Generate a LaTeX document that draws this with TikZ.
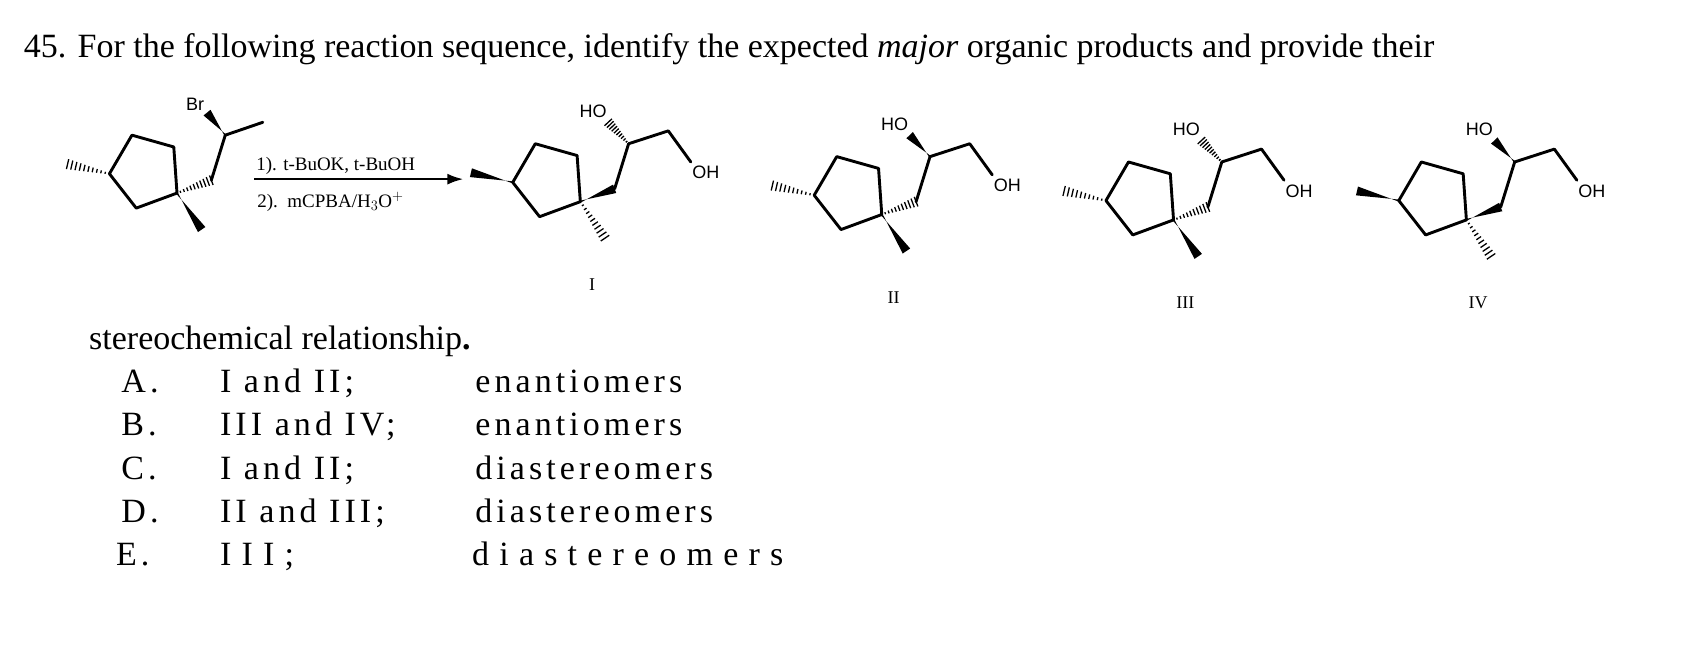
\documentclass[tikz,border=0pt]{standalone}
\usepackage{fontspec}
\setmainfont{Liberation Serif}
\newfontfamily\atomfont{Liberation Sans}
\usetikzlibrary{calc,arrows.meta}
\tikzset{bond/.style={line width=2.9pt,line cap=round,line join=round},
 atom/.style={font=\atomfont\fontsize{18}{18}\selectfont,inner sep=0pt},
 opt/.style={anchor=base west,font=\fontsize{34}{38}\selectfont\addfontfeature{LetterSpace=12},inner sep=0pt}}
\newcommand\wedgeb[2]{\fill ($(#1)!1pt!90:(#2)$) -- ($(#2)!4.5pt!90:(#1)$) -- ($(#2)!4.5pt!-90:(#1)$) -- ($(#1)!1pt!-90:(#2)$) -- cycle;}
\newcommand\hashb[2]{\foreach \t [evaluate=\t as \w using 4.5*\t+0.6] in {0.1,0.2,...,1.0}{\draw[line width=1.3pt] ($(#1)!\t!(#2)!\w pt!90:(#2)$) -- ($(#1)!\t!(#2)!\w pt!-90:(#2)$);}}
\newcommand\ring[1]{%
 \coordinate (#1q) at (0,0); \coordinate (#1a) at (-63,-18); \coordinate (#1t) at (-42,-54);
 \coordinate (#1r) at (-3,-43); \coordinate (#1b) at (-38,14);
 \coordinate (#1m) at (-102,-27); \coordinate (#1mq) at (23,34); \coordinate (#1c1) at (32,-12);
 \coordinate (#1c2) at (45,-54);
 \draw[bond] (#1a) -- (#1t) -- (#1r) -- (#1q) -- (#1b) -- cycle;
 \draw[bond] (#1c1) -- (#1c2);}
% #1 prefix, #2 origin, #3 ring-methyl, #4 CH2, #5 methyl, #6 OH, #7 label
\newcommand\prodmol[7]{\begin{scope}[shift={(#2)}]
 \ring{#1}
 \coordinate (#1c3) at (82,-66); \coordinate (#1oe) at (103,-37); \coordinate (#1he) at (26,-74);
 \draw[bond] (#1c2) -- (#1c3) -- (#1oe);
 \node[atom] (#1oh) at (117,-27) {OH};
 \node[atom] (#1ho) at (12,-84) {HO};
 #3{#1a}{#1m} #4{#1q}{#1c1} #5{#1q}{#1mq} #6{#1c2}{#1he}
 \node[font=\fontsize{18}{18}\selectfont] (#1lab) at (11,77) {#7};
\end{scope}}
\begin{document}
\begin{tikzpicture}[x=1.073pt,y=-1.073pt]
\useasboundingbox (0,0) rectangle (1568,623);
\node[anchor=base west,inner sep=0pt,font=\fontsize{34}{38}\selectfont] (title) at (22,54) {45. For the following reaction sequence, identify the expected \emph{major} organic products and provide their};
% starting material
\begin{scope}[shift={(165,180)}]
 \ring{s}
 \coordinate (sme) at (80,-66); \coordinate (sbr) at (28,-75);
 \draw[bond] (sc2) -- (sme);
 \hashb{sa}{sm} \hashb{sq}{sc1} \wedgeb{sq}{smq} \wedgeb{sc2}{sbr}
 \node[atom] (br) at (17,-83) {Br};
\end{scope}
\coordinate (arS) at (237,167); \coordinate (arE) at (432,167);
\draw[line width=2.4pt,-{Latex[length=16pt,width=11pt]}] (arS) -- (arE);
\node[font=\fontsize{19}{19}\selectfont,anchor=base] (r1) at (313,159) {1). t-BuOK, t-BuOH};
\node[font=\fontsize{19}{19}\selectfont,anchor=base] (r2) at (308,193) {2).\ \ mCPBA/H$_3$O$^+$};
\prodmol{p1}{541,188}{\wedgeb}{\wedgeb}{\hashb}{\hashb}{I}
\prodmol{p2}{822,200}{\hashb}{\hashb}{\wedgeb}{\wedgeb}{II}
\prodmol{p3}{1094,205}{\hashb}{\hashb}{\wedgeb}{\hashb}{III}
\prodmol{p4}{1367,205}{\wedgeb}{\wedgeb}{\hashb}{\wedgeb}{IV}
\node[anchor=base west,inner sep=0pt,font=\fontsize{34}{38}\selectfont] (q) at (83,326) {stereochemical relationship\textbf{.}};
\node[opt] (a1) at (113,366) {A.}; \node[opt] (a2) at (205,366) {I and II;}; \node[opt] (a3) at (443,366) {enantiomers};
\node[opt] (b1) at (113,406) {B.}; \node[opt] (b2) at (205,406) {III and IV;}; \node[opt] (b3) at (443,406) {enantiomers};
\node[opt] (c1) at (113,447) {C.}; \node[opt] (c2) at (205,447) {I and II;}; \node[opt] (c3) at (443,447) {diastereomers};
\node[opt] (d1) at (113,487) {D.}; \node[opt] (d2) at (205,487) {II and III;}; \node[opt] (d3) at (443,487) {diastereomers};
\node[opt] (e1) at (108,527) {E.}; \node[opt,font=\fontsize{34}{38}\selectfont\addfontfeature{LetterSpace=30}] (e2) at (205,527) {III;};
\node[opt,font=\fontsize{34}{38}\selectfont\addfontfeature{LetterSpace=30}] (e3) at (440,527) {diastereomers};
\end{tikzpicture}
\end{document}
